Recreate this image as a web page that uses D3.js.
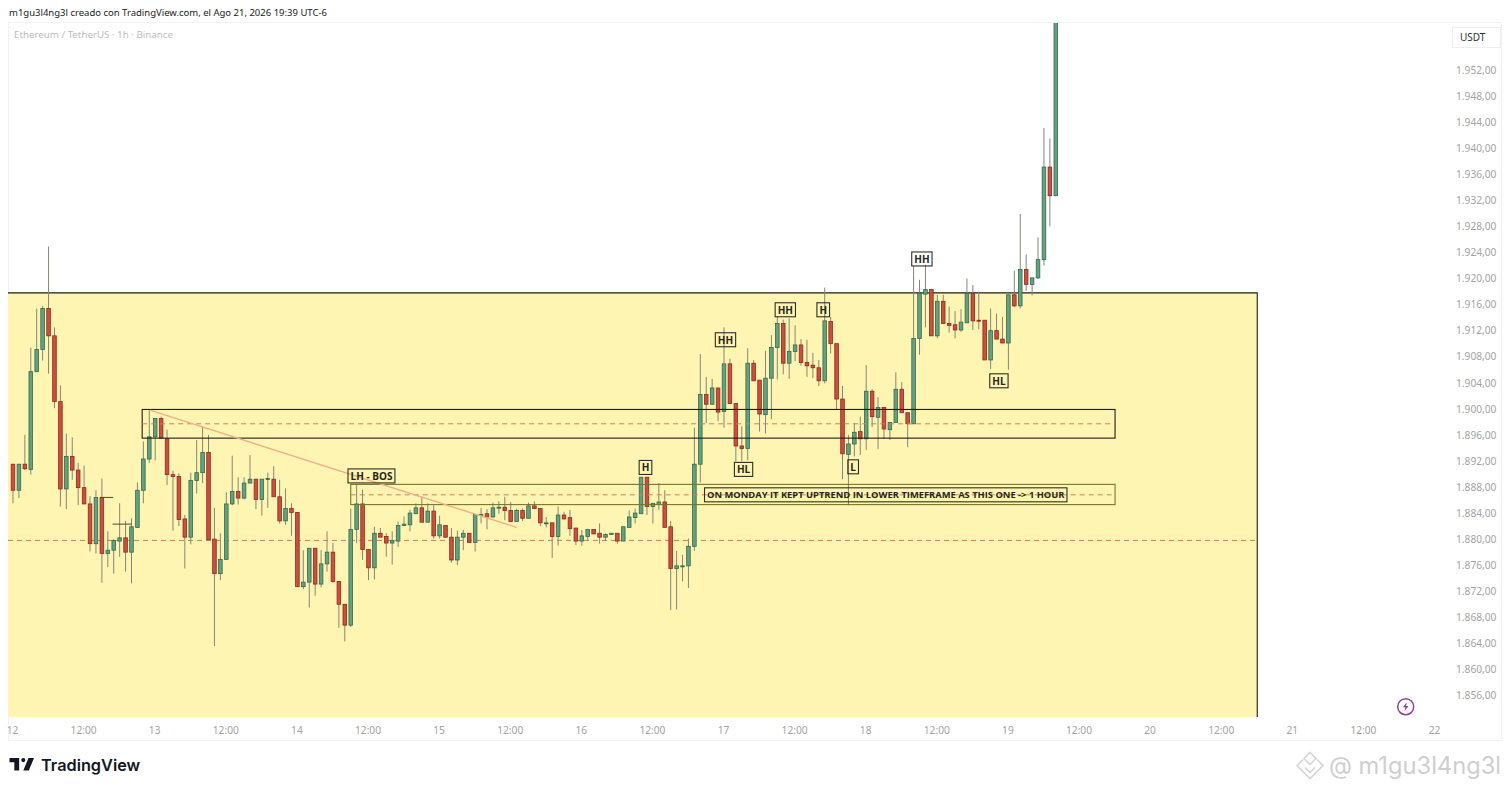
<!DOCTYPE html>
<html lang="en">
<head>
    <meta charset="UTF-8">
    <title>ETHUSDT 1h</title>
    <script src="https://d3js.org/d3.v7.min.js"></script>
    <style>
        html, body { margin: 0; padding: 0; background: #fff; overflow: hidden; }
        svg { display: block; font-family: "Noto Sans", sans-serif; }
        .axis text { fill: #a3a3a3; font-size: 10.2px; font-family: "Noto Sans", sans-serif; }
        .axis path, .axis line { display: none; }
        .note-box { fill: none; stroke: #2e2e22; stroke-width: 1.1; }
        .note-text { fill: #26261c; font-weight: 700; font-family: "Open Sans", sans-serif; text-anchor: middle; dominant-baseline: central; }
    </style>
</head>
<body>
    <div id="chart"></div>
    <script>
        // candles, one per hour, counted from the 12th at 00:00
        const opens = [
            1891.5,1887.5,1891.5,1890.7,1905.7,1909.1,1915.4,1911.2,1901.1,1887.7,
            1892.7,1890.6,1887.9,1885.4,1879.3,1886.4,1877.8,1878.3,1879.7,1880.2,
            1878.0,1881.8,1887.5,1892.3,1895.7,1898.5,1895.4,1889.9,1889.6,1883.1,
            1880.3,1889.0,1890.2,1893.3,1880.0,1874.7,1876.9,1885.4,1887.3,1886.3,
            1888.6,1889.2,1886.1,1889.2,1889.2,1886.5,1882.8,1884.7,1884.1,1872.7,
            1873.4,1878.6,1873.1,1876.2,1878.0,1873.5,1870.0,1866.8,1881.5,1885.4,
            1878.4,1875.6,1880.9,1880.4,1879.4,1879.7,1882.1,1882.2,1883.9,1884.8,
            1882.6,1884.3,1880.5,1882.1,1880.3,1876.8,1880.3,1880.9,1879.5,1883.7,
            1883.9,1883.4,1884.8,1884.9,1884.4,1882.7,1884.4,1883.2,1885.1,1884.7,
            1882.4,1882.5,1880.4,1883.7,1883.3,1881.7,1879.7,1880.4,1881.5,1880.9,
            1880.3,1880.7,1880.9,1879.7,1881.8,1883.3,1883.9,1889.5,1885.0,1885.3,
            1885.7,1881.9,1875.5,1875.8,1875.9,1878.9,1891.5,1902.2,1900.7,1903.2,
            1899.6,1906.9,1900.8,1894.3,1893.9,1907.0,1904.4,1899.1,1904.7,1909.4,
            1913.1,1907.0,1908.8,1909.8,1907.1,1906.7,1906.3,1904.3,1913.4,1910.0,
            1901.5,1893.0,1894.6,1896.5,1895.4,1902.7,1898.7,1900.2,1896.8,1897.9,
            1903.0,1899.4,1897.7,1910.8,1917.6,1918.3,1911.2,1916.5,1913.1,1912.9,
            1912.1,1913.2,1917.7,1913.6,1913.6,1907.5,1912.0,1910.7,1910.1,1917.5,
            1915.8,1921.4,1919.1,1920.1,1922.9,1937.1,1932.7
        ];
        const highs = [
            1891.5,1891.5,1896.0,1909.4,1915.4,1915.8,1924.9,1912.5,1903.6,1896.2,
            1895.6,1891.7,1891.3,1886.6,1887.5,1889.3,1881.2,1880.0,1885.5,1882.8,
            1883.2,1888.7,1895.0,1899.8,1898.5,1898.8,1896.8,1890.5,1890.1,1883.7,
            1890.2,1895.2,1897.3,1896.0,1884.8,1880.9,1887.2,1892.8,1889.5,1889.5,
            1892.9,1889.2,1889.2,1890.2,1891.2,1889.1,1887.8,1885.5,1884.1,1878.3,
            1878.6,1878.6,1878.3,1881.2,1879.4,1873.5,1870.0,1884.7,1888.3,1887.6,
            1878.5,1881.9,1881.7,1880.9,1881.2,1882.7,1883.5,1884.5,1885.5,1886.5,
            1885.5,1885.2,1883.6,1882.1,1881.7,1881.3,1881.4,1880.9,1883.8,1884.8,
            1884.6,1885.6,1885.8,1886.5,1885.7,1884.7,1884.7,1885.6,1885.8,1884.7,
            1883.4,1882.5,1885.0,1884.2,1884.5,1881.7,1881.4,1881.5,1881.5,1882.4,
            1880.9,1880.9,1880.9,1881.9,1884.4,1884.7,1889.5,1889.5,1885.5,1888.6,
            1887.5,1882.8,1878.2,1877.6,1880.1,1897.1,1908.4,1904.9,1904.6,1903.2,
            1912.5,1907.7,1900.8,1897.3,1909.3,1907.5,1904.4,1908.9,1911.3,1914.1,
            1913.7,1913.9,1912.8,1910.7,1910.6,1908.6,1907.5,1918.6,1914.1,1910.0,
            1903.5,1896.0,1897.8,1898.8,1906.7,1903.0,1901.8,1900.2,1897.9,1905.6,
            1904.1,1899.4,1921.9,1919.8,1922.1,1918.3,1917.5,1917.5,1915.7,1915.0,
            1915.3,1920.0,1919.0,1918.0,1913.6,1915.4,1914.6,1914.1,1917.5,1921.2,
            1929.9,1923.7,1920.1,1926.3,1943.1,1941.5,1959.3
        ];
        const lows = [
            1885.5,1886.3,1890.6,1889.9,1905.7,1907.4,1905.4,1900.1,1885.0,1884.6,
            1889.1,1885.2,1885.4,1878.1,1877.8,1873.3,1875.7,1874.7,1877.3,1875.0,
            1873.2,1881.8,1885.5,1891.7,1892.1,1895.5,1888.3,1881.3,1882.0,1875.5,
            1879.2,1887.0,1888.6,1879.9,1863.6,1873.7,1876.8,1885.2,1885.3,1886.1,
            1888.6,1884.6,1883.6,1884.8,1886.5,1882.4,1882.2,1880.5,1872.7,1872.3,
            1869.5,1871.3,1872.6,1875.0,1873.3,1866.4,1864.3,1866.5,1879.4,1876.8,
            1873.7,1873.8,1880.3,1877.3,1876.1,1878.8,1882.0,1881.2,1883.9,1882.6,
            1882.6,1880.1,1880.1,1880.2,1876.4,1876.0,1878.3,1879.4,1878.1,1882.4,
            1881.5,1883.3,1883.9,1882.9,1882.6,1882.7,1882.8,1883.2,1884.6,1882.0,
            1881.8,1877.1,1879.0,1883.0,1880.5,1879.1,1879.0,1879.8,1880.8,1879.3,
            1879.7,1880.7,1879.3,1879.7,1881.8,1882.4,1883.9,1883.7,1882.4,1884.5,
            1881.8,1869.1,1869.2,1873.5,1872.5,1878.2,1888.7,1897.8,1900.7,1898.1,
            1897.1,1900.8,1891.9,1891.9,1892.1,1904.3,1896.5,1896.2,1898.4,1904.5,
            1905.3,1904.6,1907.3,1906.6,1904.9,1904.7,1903.5,1903.9,1908.5,1899.8,
            1889.2,1885.2,1892.7,1892.9,1893.7,1897.2,1893.8,1895.4,1895.2,1897.9,
            1899.4,1894.1,1897.7,1908.3,1912.5,1911.2,1910.8,1913.1,1911.7,1910.8,
            1911.8,1913.2,1912.1,1912.2,1907.5,1906.1,1910.7,1910.1,1906.0,1915.6,
            1915.4,1918.1,1917.4,1919.9,1922.0,1928.0,1932.7
        ];
        const closes = [
            1887.5,1891.5,1890.8,1905.7,1909.1,1915.4,1911.2,1901.1,1887.7,1892.7,
            1890.6,1887.9,1885.4,1879.3,1886.4,1877.8,1878.3,1879.8,1880.2,1878.0,
            1881.9,1887.5,1892.3,1895.7,1898.5,1895.5,1889.9,1889.6,1883.0,1880.3,
            1889.0,1890.2,1893.3,1879.9,1874.7,1876.9,1885.4,1887.3,1886.3,1888.6,
            1889.2,1886.1,1889.2,1889.3,1886.5,1882.8,1884.7,1884.1,1872.7,1873.4,
            1878.6,1873.1,1876.2,1878.0,1873.5,1870.0,1866.8,1881.5,1885.4,1878.4,
            1875.6,1880.9,1880.3,1879.4,1879.8,1882.1,1882.3,1884.0,1884.8,1882.6,
            1884.3,1880.5,1882.2,1880.3,1876.8,1880.3,1880.9,1879.5,1883.8,1883.8,
            1883.4,1884.8,1884.9,1884.4,1882.7,1884.4,1883.2,1885.1,1884.7,1882.5,
            1882.5,1880.4,1883.7,1883.1,1881.6,1879.7,1880.5,1881.5,1880.8,1880.3,
            1880.7,1880.9,1879.7,1881.9,1883.4,1884.0,1889.5,1885.0,1885.5,1885.7,
            1881.8,1875.5,1875.9,1875.9,1878.9,1891.5,1902.2,1900.7,1903.2,1899.5,
            1906.9,1900.8,1894.3,1893.9,1907.0,1904.3,1899.2,1904.7,1909.4,1913.1,
            1907.0,1908.8,1909.8,1907.1,1906.6,1906.3,1904.3,1913.5,1910.0,1901.5,
            1893.1,1894.6,1896.4,1895.4,1902.7,1898.8,1900.2,1896.9,1897.9,1903.0,
            1899.4,1897.7,1910.8,1917.7,1918.3,1911.2,1916.5,1913.1,1912.8,1912.1,
            1913.3,1917.7,1913.5,1913.5,1907.5,1912.0,1910.7,1910.1,1917.5,1915.8,
            1921.4,1919.1,1920.1,1922.9,1937.1,1932.7,1959.3
        ];

        // axis ticks
        const priceTicks = [1952,1948,1944,1940,1936,1932,1928,1924,1920,1916,1912,1908,1904,1900,1896,1892,1888,1884,1880,1876,1872,1868,1864,1860,1856];
        const timeTickHours = [0,12,24,36,48,60,72,84,96,108,120,132,144,156,168,180,192,204,216,228,240];
        const timeTickLabels = ["12","12:00","13","12:00","14","12:00","15","12:00","16","12:00","17","12:00","18","12:00","19","12:00","20","12:00","21","12:00","22"];

        // drawings on the chart, in hours and prices
        const boxStart = [21.8, 57];
        const boxEnd = [186, 186];
        const boxTop = [1899.9, 1888.4];
        const boxBottom = [1895.5, 1885.3];
        const boxMid = [1897.7, 1886.8];
        const zoneTop = 1917.8, zoneBottom = 1852.7, zoneEnd = 210;
        const zoneMid = 1879.8;
        const trendHours = [23.1, 85], trendPrices = [1899.8, 1881.8];
        const stubStart = [14.7, 16.8], stubEnd = [16.9, 20], stubPrice = [1886.4, 1882.3];
        const noteTexts = ["LH - BOS","H","HH","HL","HH","H","L","HH","HL","ON MONDAY IT KEPT UPTREND IN LOWER TIMEFRAME AS THIS ONE -> 1 HOUR"];
        const noteHours = [60.5,106.75,120.25,123.3,130.35,136.75,141.8,153.4,166.4,147.3];
        const notePrices = [1889.7,1891.0,1910.6,1890.7,1915.2,1915.2,1891.1,1923.0,1904.3,1886.8];

        const chartWidth = 1512, chartHeight = 790;
        const plotLeft = 8, plotRight = 1501, plotTop = 23, plotBottom = 717;

        const x = d3.scaleLinear().domain([0, 240]).range([13, 1435]);
        const y = d3.scaleLinear().domain([1856, 1952]).range([695.5, 70]);

        const svg = d3.select("#chart").append("svg")
            .attr("width", chartWidth)
            .attr("height", chartHeight);

        svg.append("clipPath").attr("id", "plot-clip")
            .append("rect")
            .attr("x", plotLeft).attr("y", plotTop)
            .attr("width", plotRight - plotLeft).attr("height", plotBottom - plotTop);

        // frame
        svg.append("rect")
            .attr("x", plotLeft + 0.5).attr("y", 22.5)
            .attr("width", plotRight - plotLeft).attr("height", 718)
            .attr("fill", "none").attr("stroke", "#f2f2f2");

        const plot = svg.append("g").attr("clip-path", "url(#plot-clip)");

        // yellow zone, black only on its top and right edge
        plot.append("rect")
            .attr("x", plotLeft)
            .attr("y", y(zoneTop))
            .attr("width", x(zoneEnd) - plotLeft)
            .attr("height", y(zoneBottom) - y(zoneTop))
            .attr("fill", "#fff5b2");
        plot.append("path")
            .attr("d", `M${plotLeft},${y(zoneTop)}H${x(zoneEnd)}V${y(zoneBottom)}`)
            .attr("fill", "none")
            .attr("stroke", "#1c1c14")
            .attr("stroke-width", 1.1);
        plot.append("line")
            .attr("x1", plotLeft).attr("x2", x(zoneEnd))
            .attr("y1", y(zoneMid)).attr("y2", y(zoneMid))
            .attr("stroke", "#cd8257").attr("stroke-width", 1)
            .attr("stroke-dasharray", "5 4");

        // candles
        const hours = d3.range(opens.length);
        const green = "#66a080", greenEdge = "#2f6b4c", red = "#c9503f", redEdge = "#8d2a1f";
        const candles = plot.append("g");

        candles.selectAll(".wick")
            .data(hours)
            .enter().append("line")
            .attr("class", "wick")
            .attr("x1", d => x(d)).attr("x2", d => x(d))
            .attr("y1", d => y(highs[d])).attr("y2", d => y(lows[d]))
            .attr("stroke", "#85857a")
            .attr("stroke-width", 1);

        candles.selectAll(".body")
            .data(hours)
            .enter().append("rect")
            .attr("class", "body")
            .attr("x", d => x(d) - 1.8)
            .attr("y", d => y(Math.max(opens[d], closes[d])))
            .attr("width", 3.6)
            .attr("height", d => Math.max(1, Math.abs(y(opens[d]) - y(closes[d]))))
            .attr("fill", d => closes[d] >= opens[d] ? green : red)
            .attr("stroke", d => closes[d] >= opens[d] ? greenEdge : redEdge)
            .attr("stroke-width", 0.8);

        // boxes with their dashed middle line
        const boxes = d3.range(boxStart.length);
        plot.selectAll(".zone-box")
            .data(boxes)
            .enter().append("rect")
            .attr("class", "zone-box")
            .attr("x", d => x(boxStart[d]))
            .attr("y", d => y(boxTop[d]))
            .attr("width", d => x(boxEnd[d]) - x(boxStart[d]))
            .attr("height", d => y(boxBottom[d]) - y(boxTop[d]))
            .attr("fill", "none")
            .attr("stroke", d => d === 0 ? "#1c1c14" : "#77762a")
            .attr("stroke-width", 1.1);
        plot.selectAll(".zone-mid")
            .data(boxes)
            .enter().append("line")
            .attr("class", "zone-mid")
            .attr("x1", d => x(boxStart[d])).attr("x2", d => x(boxEnd[d]))
            .attr("y1", d => y(boxMid[d])).attr("y2", d => y(boxMid[d]))
            .attr("stroke", "#cd8257").attr("stroke-width", 1)
            .attr("stroke-dasharray", "5 4");

        // trend line
        plot.append("line")
            .attr("x1", x(trendHours[0])).attr("y1", y(trendPrices[0]))
            .attr("x2", x(trendHours[1])).attr("y2", y(trendPrices[1]))
            .attr("stroke", "#efb084").attr("stroke-width", 1.4);

        // two short horizontal stubs
        plot.selectAll(".stub")
            .data(stubStart)
            .enter().append("line")
            .attr("class", "stub")
            .attr("x1", (d, i) => x(stubStart[i])).attr("x2", (d, i) => x(stubEnd[i]))
            .attr("y1", (d, i) => y(stubPrice[i])).attr("y2", (d, i) => y(stubPrice[i]))
            .attr("stroke", "#4a4a3a").attr("stroke-width", 1);

        // text notes, box sized from the text
        const notes = plot.selectAll(".note")
            .data(noteTexts)
            .enter().append("g")
            .attr("class", "note")
            .attr("transform", (d, i) => `translate(${x(noteHours[i])},${y(notePrices[i])})`);
        notes.append("text")
            .attr("class", "note-text")
            .attr("font-size", d => d.length > 20 ? 9.35 : 10)
            .text(d => d);
        notes.each(function () {
            const g = d3.select(this);
            const w = g.select("text").node().getComputedTextLength();
            g.insert("rect", "text")
                .attr("class", "note-box")
                .attr("x", -w / 2 - 2.5).attr("y", -7)
                .attr("width", w + 5).attr("height", 14);
        });

        // price axis
        const number = d3.formatLocale({ decimal: ",", thousands: ".", grouping: [3], currency: ["", ""] }).format(",.2f");
        svg.append("g")
            .attr("class", "axis")
            .attr("transform", "translate(1453,0)")
            .call(d3.axisRight(y).tickValues(priceTicks).tickFormat(number).tickSize(0));

        // currency box
        svg.append("rect")
            .attr("x", 1452.5).attr("y", 27.5)
            .attr("width", 48).attr("height", 20)
            .attr("fill", "#fff").attr("stroke", "#eeeeee");
        svg.append("text")
            .attr("x", 1460).attr("y", 41)
            .attr("fill", "#333")
            .attr("font-size", 10)
            .text("USDT");

        // time axis
        svg.append("g")
            .attr("class", "axis")
            .attr("transform", "translate(-1,723.5)")
            .call(d3.axisBottom(x).tickValues(timeTickHours).tickFormat((d, i) => timeTickLabels[i]).tickSize(0));

        // header
        svg.append("text")
            .attr("x", 9).attr("y", 16)
            .attr("fill", "#222")
            .attr("font-size", 9.5)
            .text("m1gu3l4ng3l creado con TradingView.com, el Ago 21, 2026 19:39 UTC-6");
        svg.append("text")
            .attr("x", 14).attr("y", 38)
            .attr("fill", "#bdbdbd")
            .attr("font-size", 9.75)
            .text("Ethereum / TetherUS · 1h · Binance");

        // bolt button
        const bolt = svg.append("g").attr("transform", "translate(1405.7,706.7)");
        bolt.append("circle").attr("r", 8)
            .attr("fill", "#fff").attr("stroke", "#8b3fa6").attr("stroke-width", 1.5);
        bolt.append("path").attr("d", "M1.2,-4.5L-2.8,0.6H-0.3L-1.2,4.5L2.8,-0.8H0.3Z").attr("fill", "#8b3fa6");

        // TradingView logo
        svg.append("path")
            .attr("transform", "translate(9.5,753.9) scale(0.69)")
            .attr("d", "M14 6H0v6h7v12h7V6zM28 24h-8l7.5-18h8L28 24z")
            .attr("fill", "#131722");
        svg.append("circle")
            .attr("transform", "translate(9.5,753.9) scale(0.69)")
            .attr("cx", 20).attr("cy", 9).attr("r", 3)
            .attr("fill", "#131722");
        svg.append("text")
            .attr("x", 41).attr("y", 771)
            .attr("fill", "#131722")
            .attr("font-family", "Inter, sans-serif")
            .attr("font-weight", 600)
            .attr("font-size", 16.3)
            .text("TradingView");

        // watermark
        const mark = svg.append("g").attr("transform", "translate(1310,765.5)")
            .attr("fill", "none").attr("stroke", "#d6d6d6").attr("stroke-width", 1.6);
        mark.append("path").attr("d", "M0,-13L6,-7L0,-1L-6,-7ZM-7,-6L-13,0L0,13L13,0L7,-6M-5,2L0,7L5,2");
        svg.append("text")
            .attr("x", 1329).attr("y", 773.5)
            .attr("fill", "#cfcfcf")
            .attr("font-family", "Inter, sans-serif")
            .attr("font-size", 23.7)
            .text("@ m1gu3l4ng3l");
    </script>
</body>
</html>
